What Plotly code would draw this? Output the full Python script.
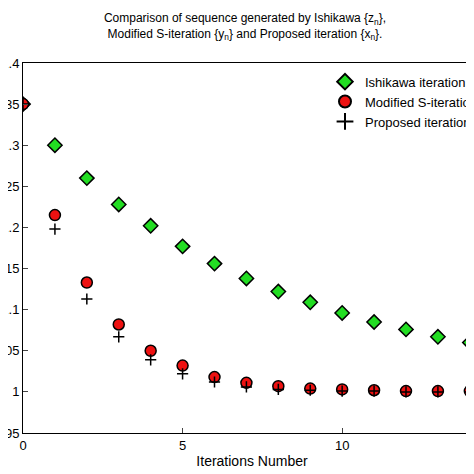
import plotly.graph_objects as go

iters = list(range(15))
ishikawa = [1.35, 1.30, 1.26, 1.228, 1.202, 1.177, 1.156, 1.138, 1.122, 1.109, 1.096, 1.085, 1.076, 1.067, 1.06]
modified_s = [1.35, 1.215, 1.133, 1.082, 1.05, 1.032, 1.018, 1.011, 1.007, 1.004, 1.003, 1.002, 1.001, 1.001, 1.001]
proposed = [1.35, 1.198, 1.113, 1.067, 1.039, 1.022, 1.012, 1.006, 1.003, 1.002, 1.001, 1.001, 1.0, 1.0, 1.0]
yticks = [0.95, 1.0, 1.05, 1.1, 1.15, 1.2, 1.25, 1.3, 1.35, 1.4]
ytext = ["0.95", "1", "1.05", "1.1", "1.15", "1.2", "1.25", "1.3", "1.35", "1.4"]

fig = go.Figure()
fig.add_trace(go.Scatter(x=iters, y=ishikawa, mode="markers", name="Ishikawa iteration",
    marker=dict(symbol="diamond", size=11, color="#22dd22", line=dict(color="black", width=1.5))))
fig.add_trace(go.Scatter(x=iters, y=modified_s, mode="markers", name="Modified S-iteration",
    marker=dict(symbol="circle", size=11, color="#ee1111", line=dict(color="black", width=1.5))))
fig.add_trace(go.Scatter(x=iters, y=proposed, mode="markers", name="Proposed iteration",
    marker=dict(symbol="cross-thin", size=8, color="black", line=dict(color="black", width=1.5))))

fig.update_layout(
    width=474, height=474, plot_bgcolor="white", paper_bgcolor="white",
    margin=dict(l=15, r=0, t=55, b=49),
    font=dict(family="Liberation Sans, Arial", color="black", size=13),
    title=dict(text="Comparison of sequence generated by Ishikawa {z<sub>n</sub>},<br>Modified S-iteration {y<sub>n</sub>} and Proposed iteration {x<sub>n</sub>}.",
               x=0.5, xanchor="center", y=0.97, yanchor="top", font=dict(size=12)),
    legend=dict(x=0.66, y=0.99, xanchor="left", yanchor="top", bgcolor="rgba(0,0,0,0)",
                font=dict(size=13), itemsizing="constant"),
    xaxis=dict(range=[0, 14.35], tickvals=[0, 5, 10], showline=True, linecolor="black", mirror=True,
               ticks="inside", ticklen=5, showgrid=False, zeroline=False,
               title=dict(text="Iterations Number", standoff=4, font=dict(size=14))),
    yaxis=dict(range=[0.95, 1.4], tickvals=yticks, ticktext=ytext, showline=True, linecolor="black",
               mirror=True, ticks="inside", ticklen=5, showgrid=False, zeroline=False, automargin=False),
)
fig.write_html("out.html")
